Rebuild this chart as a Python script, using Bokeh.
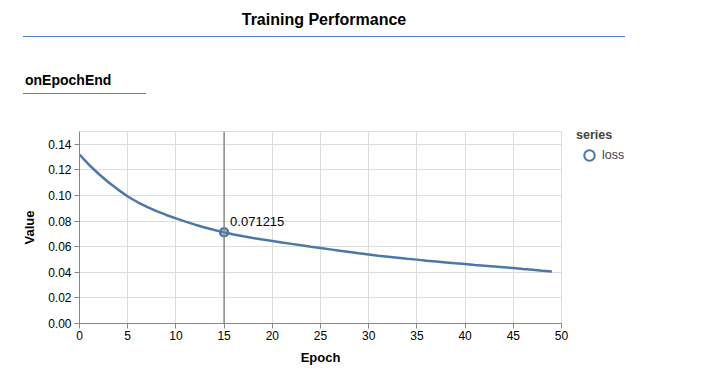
from bokeh.plotting import figure
from bokeh.layouts import column
from bokeh.models import (Div, Span, Label, Legend, LegendItem, FixedTicker,
                          NumeralTickFormatter, ColumnDataSource)
from bokeh.embed import file_html
from bokeh.resources import INLINE

# ---- data ----
epochs = list(range(50))
loss = [0.1320, 0.1240, 0.1168, 0.1104, 0.1046, 0.0992, 0.0949, 0.0911, 0.0878, 0.0848,
        0.0821, 0.0796, 0.0772, 0.0750, 0.0730, 0.071215, 0.0696, 0.0681, 0.0668, 0.0656,
        0.0645, 0.0633, 0.0622, 0.0611, 0.0600, 0.0590, 0.0579, 0.0568, 0.0558, 0.0548,
        0.0539, 0.0530, 0.0522, 0.0514, 0.0506, 0.0499, 0.0491, 0.0484, 0.0477, 0.0470,
        0.0464, 0.0457, 0.0451, 0.0445, 0.0439, 0.0433, 0.0426, 0.0420, 0.0413, 0.0407]
series_name = "loss"
highlight_epoch = 15
highlight_value = 0.071215
x_ticks = [0, 5, 10, 15, 20, 25, 30, 35, 40, 45, 50]
y_ticks = [0.00, 0.02, 0.04, 0.06, 0.08, 0.10, 0.12, 0.14]
main_title = "Training Performance"
sub_title = "onEpochEnd"

FONT = "'Liberation Sans', Arial, sans-serif"
BLUE = "#4c78a8"
RULE = "#4a80d8"

header_html = f"""
<div style="position:relative;width:690px;height:123px;font-family:{FONT};color:#000;">
  <div style="position:absolute;left:23px;top:8px;width:602px;height:28px;text-align:center;font-weight:bold;font-size:16px;line-height:24px;border-bottom:1px solid {RULE};box-sizing:content-box;">{main_title}</div>
  <div style="position:absolute;left:23px;top:69px;width:123px;height:25px;padding-left:2px;font-weight:bold;font-size:14px;line-height:22px;border-bottom:1px solid {RULE};">{sub_title}</div>
</div>
"""
header = Div(text=header_html, width=690, height=123, margin=0)

p = figure(frame_width=482, frame_height=192, x_range=(0, 50), y_range=(0, 0.15),
           output_backend="svg", toolbar_location=None, margin=0,
           min_border_left=79, min_border_top=8, min_border_bottom=42, min_border_right=10)
p.outline_line_color = "#dddddd"

src = ColumnDataSource(dict(epoch=epochs, value=loss))
p.line("epoch", "value", source=src, line_color=BLUE, line_width=2.5)

p.add_layout(Span(location=highlight_epoch, dimension="height", line_color="#8a8a8a", line_width=1.5))
# hollow symbol used by the legend, filled hover point on top
leg_pt = p.scatter([highlight_epoch], [highlight_value], marker="circle", size=8,
                   fill_color=None, line_color=BLUE, line_width=2)
p.scatter([highlight_epoch], [highlight_value], marker="circle", size=8,
          fill_color=BLUE, fill_alpha=0.3, line_color=BLUE, line_width=2)
p.add_layout(Label(x=highlight_epoch, y=highlight_value, text=f"{highlight_value:.6f}".rstrip("0"),
                   x_offset=6, y_offset=11, text_baseline="middle",
                   text_font="Liberation Sans", text_font_size="13px", text_color="#000"))

legend = Legend(items=[LegendItem(label=series_name, renderers=[leg_pt])],
                title="series", location=(15, 155), margin=0, padding=0,
                border_line_color=None, background_fill_alpha=0,
                glyph_width=26, glyph_height=26, label_height=26, label_standoff=0,
                title_standoff=0, spacing=0,
                title_text_font="Liberation Sans", title_text_font_style="bold",
                title_text_font_size="12.5px", label_text_font="Liberation Sans",
                label_text_font_size="12.5px", label_text_baseline="middle")
p.add_layout(legend, "right")

for ax in (p.xaxis[0], p.yaxis[0]):
    ax.axis_line_color = "#888888"
    ax.major_tick_line_color = "#888888"
    ax.major_tick_out = 5
    ax.major_tick_in = 0
    ax.minor_tick_line_color = None
    ax.major_label_text_font = "Liberation Sans"
    ax.major_label_text_font_size = "12px"
    ax.major_label_text_color = "#000000"
    ax.axis_label_text_font = "Liberation Sans"
    ax.axis_label_text_font_size = "13px"
    ax.axis_label_text_font_style = "bold"
    ax.axis_label_text_color = "#000000"

p.xaxis.ticker = FixedTicker(ticks=x_ticks)
p.yaxis.ticker = FixedTicker(ticks=y_ticks)
p.yaxis.formatter = NumeralTickFormatter(format="0.00")
p.xaxis.axis_label = "Epoch"
p.yaxis.axis_label = "Value"
p.xaxis.major_label_standoff = 2
p.yaxis.major_label_standoff = 3
p.xaxis.axis_label_standoff = 7
p.yaxis.axis_label_standoff = 8

p.xgrid.ticker = FixedTicker(ticks=x_ticks)
p.ygrid.ticker = FixedTicker(ticks=y_ticks)
p.xgrid.grid_line_color = "#dddddd"
p.ygrid.grid_line_color = "#dddddd"

layout = column(header, p)
open("out.html", "w").write(file_html(layout, INLINE))
